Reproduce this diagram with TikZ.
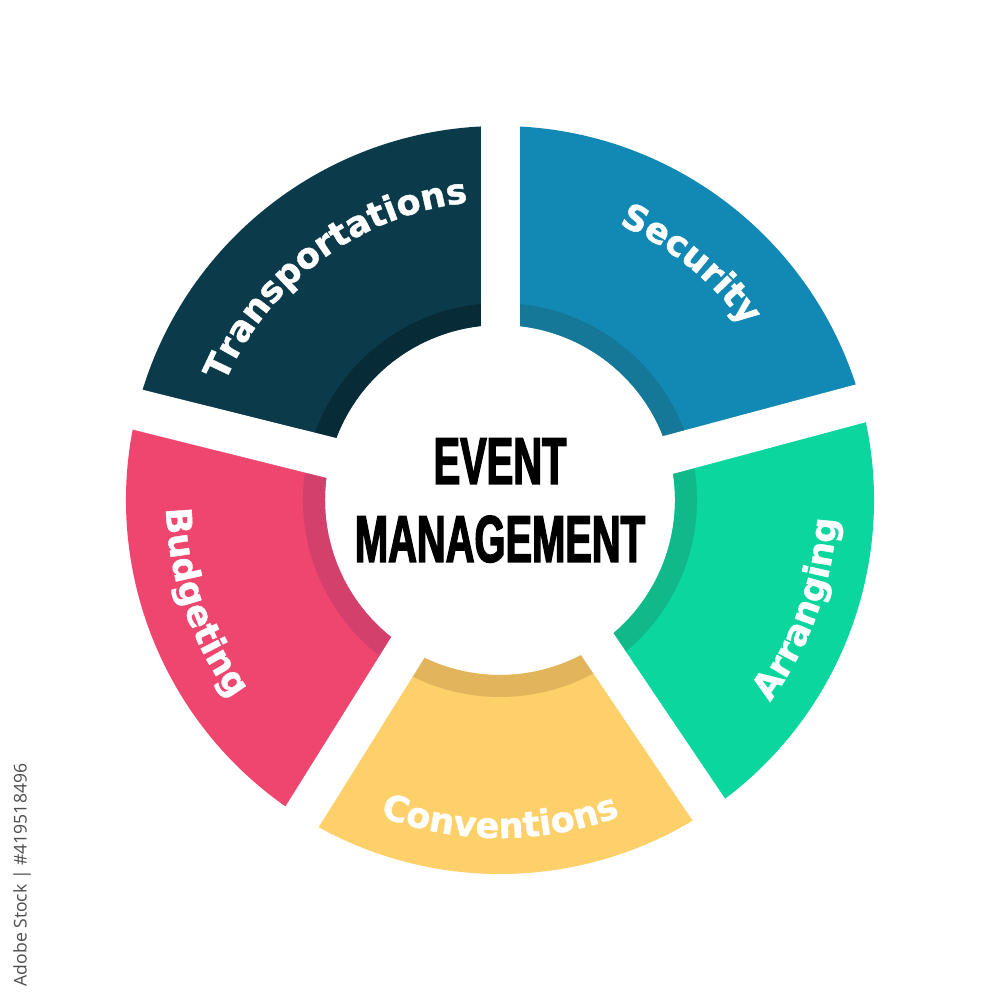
\documentclass[tikz,border=0pt]{standalone}
\usepackage{fontspec}
\setmainfont{Liberation Sans}
\newfontfamily\titlefont{Liberation Sans}[FakeStretch=0.6,FakeBold=2]
\newfontfamily\segfont{DejaVu Sans}[LetterSpace=4,FakeBold=1.2]
\newfontfamily\stockfont{Open Sans}
\usetikzlibrary{decorations.text}
\definecolor{transp}{HTML}{0B3A4A}
\definecolor{transpdark}{HTML}{072B37}
\definecolor{secur}{HTML}{1289B4}
\definecolor{securdark}{HTML}{157898}
\definecolor{arrang}{HTML}{0AD69E}
\definecolor{arrangdark}{HTML}{11B98A}
\definecolor{conven}{HTML}{FDD069}
\definecolor{convendark}{HTML}{E2B45B}
\definecolor{budget}{HTML}{EF4670}
\definecolor{budgetdark}{HTML}{D3406B}
\definecolor{stockgray}{HTML}{4D4D4D}
\tikzset{
	segment/.style={fill=#1},
	shadow band/.style={fill=#1},
	gap line/.style={draw=white,line width=0.39cm},
	seg label/.style={decorate,
		decoration={text along path,text align=center,
		text={|\segfont\bfseries\fontsize{10pt}{12pt}\selectfont\color{white}|#1}}},
	title/.style={font=\titlefont\bfseries\fontsize{18.9pt}{22pt}\selectfont,anchor=base}
}

\begin{document}
\begin{tikzpicture}
	\fill[white] (-5,-5) rectangle (5,5);
	\useasboundingbox (-5,-5) rectangle (5,5);
	\coordinate (o) at (0,0);
	% ring segments
	\fill[segment=transp] (90:3.74) arc[start angle=90,end angle=166,radius=3.74] -- (166:1.75) arc[start angle=166,end angle=90,radius=1.75] -- cycle;
	\fill[segment=secur] (15:3.74) arc[start angle=15,end angle=90,radius=3.74] -- (90:1.75) arc[start angle=90,end angle=15,radius=1.75] -- cycle;
	\fill[segment=arrang] (-56:3.74) arc[start angle=-56,end angle=15,radius=3.74] -- (15:1.75) arc[start angle=15,end angle=-56,radius=1.75] -- cycle;
	\fill[segment=conven] (-122:3.74) arc[start angle=-122,end angle=-56,radius=3.74] -- (-56:1.75) arc[start angle=-56,end angle=-122,radius=1.75] -- cycle;
	\fill[segment=budget] (166:3.74) arc[start angle=166,end angle=238,radius=3.74] -- (238:1.75) arc[start angle=238,end angle=166,radius=1.75] -- cycle;
	% darker inner bands
	\fill[shadow band=transpdark] (90:1.97) arc[start angle=90,end angle=166,radius=1.97] -- (166:1.75) arc[start angle=166,end angle=90,radius=1.75] -- cycle;
	\fill[shadow band=securdark] (15:1.97) arc[start angle=15,end angle=90,radius=1.97] -- (90:1.75) arc[start angle=90,end angle=15,radius=1.75] -- cycle;
	\fill[shadow band=arrangdark] (-56:1.97) arc[start angle=-56,end angle=15,radius=1.97] -- (15:1.75) arc[start angle=15,end angle=-56,radius=1.75] -- cycle;
	\fill[shadow band=convendark] (-122:1.97) arc[start angle=-122,end angle=-56,radius=1.97] -- (-56:1.75) arc[start angle=-56,end angle=-122,radius=1.75] -- cycle;
	\fill[shadow band=budgetdark] (166:1.97) arc[start angle=166,end angle=238,radius=1.97] -- (238:1.75) arc[start angle=238,end angle=166,radius=1.75] -- cycle;
	% gaps
	\draw[gap line] (o) -- (90:3.9);
	\draw[gap line] (o) -- (15:3.9);
	\draw[gap line] (o) -- (-56:3.9);
	\draw[gap line] (o) -- (-122:3.9);
	\draw[gap line,line width=0.41cm] (o) -- (166:3.9);
	% labels
	\path[seg label=Transportations] (170:2.99) arc[start angle=170,end angle=83,radius=2.99];
	\path[seg label=Security] (95:3.0) arc[start angle=95,end angle=7,radius=3.0];
	\path[seg label=Arranging] (-63:3.37) arc[start angle=-63,end angle=23,radius=3.37];
	\path[seg label=Conventions] (225:3.38) arc[start angle=225,end angle=315,radius=3.38];
	\path[seg label=Budgeting] (155:3.34) arc[start angle=155,end angle=243,radius=3.34];
	% centre
	\node[title] (event) at (0,0.16) {EVENT};
	\node[title] (mgmt) at (0,-0.62) {MANAGEMENT};
	\node[rotate=90,text=stockgray,font=\stockfont\fontsize{5pt}{6pt}\selectfont] (stock) at (-4.78,-3.75) {Adobe Stock | \#419518496};
\end{tikzpicture}
\end{document}
